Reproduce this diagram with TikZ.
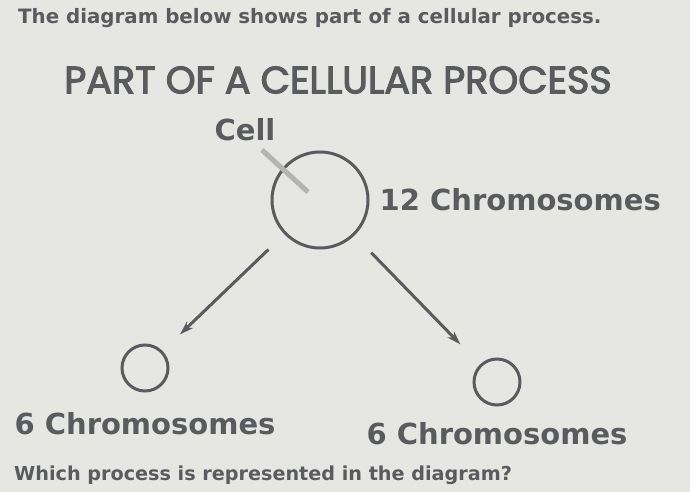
\documentclass[tikz,border=0pt]{standalone}
\usepackage{fontspec}
\setmainfont{DejaVu Sans}
\newfontfamily\titlefont[FakeBold=3]{Poppins}
\usetikzlibrary{arrows.meta,positioning}
\definecolor{screen}{HTML}{E6E6E3}
\definecolor{ink}{HTML}{5A5B5F}
\definecolor{pointer}{HTML}{B4B4B4}
\tikzset{
    cellcirc/.style={draw=ink, circle, line width=3pt, inner sep=0pt},
    lbl/.style={text=ink, inner sep=0pt, font=\bfseries\fontsize{29}{31}\selectfont},
    split/.style={draw=ink, line width=3pt, -{Stealth[length=14pt,width=9pt]}}}

\begin{document}
\begin{tikzpicture}[x=1pt,y=-1pt]
\fill[screen] (0,0) rectangle (690,492);
\useasboundingbox (0,0) rectangle (690,492);

\node[text=ink, anchor=west, inner sep=0pt, font=\bfseries\fontsize{19.8}{21}\selectfont] (intro) at (18,18) {The diagram below shows part of a cellular process.};
\node[text=ink, inner sep=0pt, font=\titlefont\fontsize{38}{40}\selectfont] (title) at (338,80) {PART OF A CELLULAR PROCESS};

\node[cellcirc, minimum size=96pt] (mother) at (320,200) {};
\node[lbl] (cell) at (245,130) {Cell};
\coordinate (tip) at (308,192);
\draw[pointer, line width=5pt] (262,150) -- (tip);
\node[lbl, right=10pt of mother] (twelve) {12 Chromosomes};

\node[cellcirc, minimum size=46pt] (left) at (145,368) {};
\node[cellcirc, minimum size=46pt] (right) at (497,382) {};
\node[lbl, below=20pt of left] (sixl) {6 Chromosomes};
\node[lbl, below=16pt of right] (sixr) {6 Chromosomes};

\draw[split, shorten <=22pt, shorten >=24pt] (mother) -- (left);
\draw[split, shorten <=24pt, shorten >=28pt] (mother) -- (right);

\node[text=ink, anchor=west, inner sep=0pt, font=\bfseries\fontsize{19.2}{21}\selectfont] (question) at (14,475) {Which process is represented in the diagram?};
\end{tikzpicture}
\end{document}
